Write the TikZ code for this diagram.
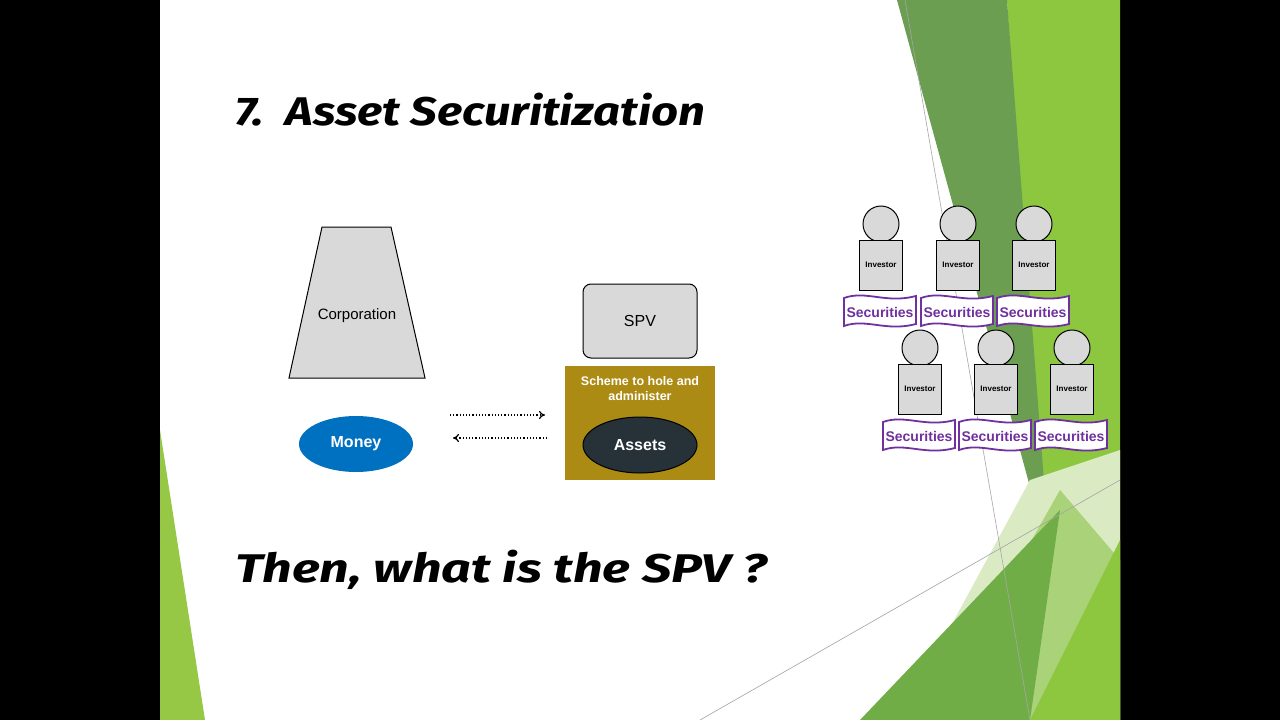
\documentclass[tikz,border=0pt]{standalone}
\usepackage{fontspec}
\usepackage{graphicx}
\usetikzlibrary{shapes.geometric,arrows.meta}
\setmainfont{Fira Sans}
\newfontfamily\lab{Liberation Sans}
\definecolor{purp}{RGB}{112,48,160}
\begin{document}
\begin{tikzpicture}[x=1pt,y=-1pt,
  box/.style={draw=black,line width=1pt,fill=gray!30},
  head/.style={circle,draw=black,line width=1pt,fill=gray!30,minimum size=36pt,inner sep=0},
  inv/.style={draw=black,line width=1pt,fill=gray!30,minimum width=43pt,minimum height=50pt,inner sep=0,font=\lab\bfseries\fontsize{8}{9}\selectfont},
  sec/.style={text=purp,font=\lab\bfseries\fontsize{14}{15}\selectfont,inner sep=0},
  dots/.style={dotted,line width=1.2pt,-{>[length=6pt,width=8pt]}}]
\useasboundingbox (0,0) rectangle (1280,720);
\fill[black] (0,0) rectangle (1280,720);
\fill[white] (160,0) rectangle (1120,720);
% green decor
\fill[color={rgb,255:red,150;green,200;blue,70}] (160,430) -- (205,720) -- (160,720) -- cycle;
\fill[color={rgb,255:red,141;green,198;blue,63}] (1007,0) -- (1120,0) -- (1120,720) -- (1050,720) -- (1040,500) -- cycle;
\fill[color={rgb,255:red,107;green,158;blue,80}] (897,0) -- (1007,0) -- (1050,560) -- cycle;
\fill[color={rgb,255:red,218;green,235;blue,196}] (900,720) -- (1030,480) -- (1120,450) -- (1120,720) -- cycle;
\fill[color={rgb,255:red,170;green,210;blue,120}] (930,720) -- (1060,490) -- (1120,560) -- (1120,720) -- cycle;
\fill[color={rgb,255:red,112;green,173;blue,71}] (860,720) -- (1060,510) -- (1030,720) -- cycle;
\fill[color={rgb,255:red,141;green,198;blue,63}] (1030,720) -- (1120,540) -- (1120,720) -- cycle;
\draw[gray!70,line width=0.6pt] (905,0) -- (1030,720);
\draw[gray!70,line width=0.6pt] (700,720) -- (1120,480);
% title
\node[anchor=base west,font=\bfseries\itshape\fontsize{40}{44}\selectfont,inner sep=0] (title) at (235,125) {\scalebox{1.18}[1]{7.\ \ Asset Securitization}};
\node[anchor=base west,font=\bfseries\itshape\fontsize{40}{44}\selectfont,inner sep=0] (q) at (235,582) {\scalebox{1.3}[1]{Then, what is the SPV ?}};
% corporation
\draw[box] (322,227) -- (391,227) -- (425,378) -- (289,378) -- cycle;
\node[font=\lab\fontsize{15}{16}\selectfont] (corp) at (357,316) {Corporation};
% SPV
\node[box,rounded corners=8pt,minimum width=114pt,minimum height=74pt,font=\lab\fontsize{16}{17}\selectfont] (spv) at (640,321) {SPV};
\fill[color={rgb,255:red,172;green,139;blue,20}] (565,366) rectangle (715,480);
\node[text=white,align=center,font=\lab\bfseries\fontsize{12.5}{15}\selectfont] (scheme) at (640,389) {Scheme to hole and\\administer};
\node[ellipse,draw=black,line width=1pt,fill={rgb,255:red,38;green,50;blue,56},text=white,minimum width=114pt,minimum height=56pt,inner sep=0,font=\lab\bfseries\fontsize{16}{17}\selectfont] (assets) at (640,445) {Assets};
\node[ellipse,fill={rgb,255:red,0;green,112;blue,192},text=white,minimum width=114pt,minimum height=56pt,inner sep=0,font=\lab\bfseries\fontsize{16}{17}\selectfont] (money) at (356,444) {Money};
\coordinate (a1) at (450,415); \coordinate (b1) at (545,415);
\coordinate (a2) at (547,438); \coordinate (b2) at (453,438);
\draw[dots] (a1) -- (b1);
\draw[dots] (a2) -- (b2);
% investors
\foreach \x/\y/\n in {881/224/1,958/224/2,1034/224/3,920/348/4,996/348/5,1072/348/6}{
  \node[head] (h\n) at (\x,\y) {};
  \node[inv] (i\n) at (\x,\y+41) {Investor};
  \draw[purp,line width=1.8pt,fill=white]
    (\x-37,\y+74) .. controls (\x-15,\y+66) and (\x+5,\y+80) .. (\x+35,\y+72)
    -- (\x+35,\y+100) .. controls (\x+5,\y+108) and (\x-15,\y+94) .. (\x-37,\y+102) -- cycle;
  \node[sec] (s\n) at (\x-1,\y+88) {Securities};
}
\end{tikzpicture}
\end{document}
